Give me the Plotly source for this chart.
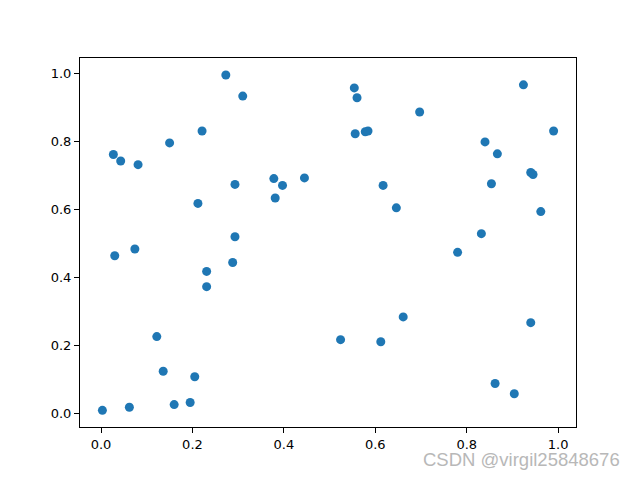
import plotly.graph_objects as go

x_vals = [0.273, 0.310, 0.221, 0.150, 0.027, 0.043, 0.081, 0.293, 0.212, 0.293,
          0.554, 0.560, 0.556, 0.578, 0.584, 0.378, 0.397, 0.381, 0.445, 0.617, 0.646,
          0.924, 0.697, 0.990, 0.840, 0.867, 0.940, 0.945, 0.854, 0.962, 0.832,
          0.030, 0.074, 0.231, 0.231, 0.288, 0.122, 0.136, 0.205, 0.003, 0.062, 0.160, 0.195,
          0.524, 0.612, 0.661,
          0.780, 0.940, 0.862, 0.904]
y_vals = [0.996, 0.934, 0.831, 0.796, 0.762, 0.743, 0.732, 0.674, 0.618, 0.520,
          0.958, 0.929, 0.823, 0.829, 0.831, 0.691, 0.671, 0.634, 0.693, 0.671, 0.605,
          0.967, 0.887, 0.831, 0.799, 0.764, 0.709, 0.703, 0.676, 0.594, 0.529,
          0.464, 0.484, 0.418, 0.373, 0.444, 0.226, 0.124, 0.108, 0.009, 0.018, 0.026, 0.032,
          0.217, 0.211, 0.284,
          0.474, 0.267, 0.088, 0.058]

x_ticks = [0.0, 0.2, 0.4, 0.6, 0.8, 1.0]
y_ticks = [0.0, 0.2, 0.4, 0.6, 0.8, 1.0]

fig = go.Figure(go.Scatter(
    x=x_vals, y=y_vals, mode="markers",
    marker=dict(color="#1f77b4", size=9, line=dict(width=0)),
))

axis_common = dict(
    showgrid=False, zeroline=False, showline=True, linecolor="black", linewidth=1,
    mirror=True, ticks="outside", ticklen=5, tickcolor="black", tickwidth=1,
    tickfont=dict(family="DejaVu Sans", size=13, color="black"),
)
fig.update_xaxes(range=[-0.046, 1.039], tickvals=x_ticks,
                 ticktext=[f"{v:.1f}" for v in x_ticks], **axis_common)
fig.update_yaxes(range=[-0.040, 1.046], tickvals=y_ticks,
                 ticktext=[f"{v:.1f}" for v in y_ticks], **axis_common)

fig.add_annotation(text="CSDN @virgil25848676", xref="paper", yref="paper",
                   x=1.093, y=-0.089, xanchor="right", yanchor="middle", showarrow=False,
                   font=dict(family="Liberation Sans", size=18.5, color="#b8b8b8"))

fig.update_layout(
    width=640, height=480, showlegend=False,
    margin=dict(l=72, r=72, t=50, b=61),
    paper_bgcolor="white", plot_bgcolor="white",
)
fig.write_html("out.html")
